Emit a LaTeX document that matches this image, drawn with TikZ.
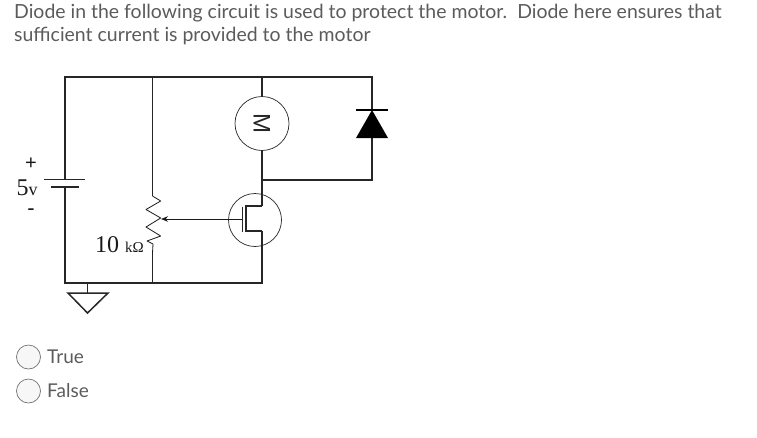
\documentclass[tikz,border=0pt]{standalone}
\usepackage{fontspec}
\setmainfont{Lato}
\newfontfamily\serifcirc{Liberation Serif}
\newfontfamily\sanscirc{Liberation Sans}
\usetikzlibrary{arrows.meta}
\definecolor{qtext}{HTML}{5B5B5B}
\tikzset{
  wire/.style={line width=1.5pt,color=black!85},
  thinring/.style={circle,draw=black!85,line width=0.7pt,minimum size=#1,inner sep=0pt},
  radio/.style={circle,draw=black!55,fill=black!3,line width=0.7pt,minimum size=24pt,inner sep=0pt},
  qlabel/.style={text=qtext,inner sep=0pt,anchor=base west,font=\fontsize{19.45}{22}\selectfont},
  anslabel/.style={text=qtext,inner sep=0pt,anchor=base west,font=\fontsize{19}{22}\selectfont},
  ser/.style={inner sep=0pt,text=black!90,font=\serifcirc}
}
\begin{document}
\begin{tikzpicture}[x=1pt,y=-1pt]
\useasboundingbox (0,0) rectangle (757,437);
\node[qlabel] (q1) at (14,18) {Diode in the following circuit is used to protect the motor.\ \ Diode here ensures that};
\node[qlabel] (q2) at (14,41) {sufficient current is provided to the motor};
% key points
\coordinate (tl) at (65,77);
\coordinate (tp) at (152.5,77);
\coordinate (tm) at (262,77);
\coordinate (tr) at (372,77);
\coordinate (bl) at (65,283);
\coordinate (bg) at (87.5,283);
\coordinate (bp) at (152.5,283);
\coordinate (bm) at (262,283);
\coordinate (jn) at (262,180);
\coordinate (jr) at (372,180);
\coordinate (batP) at (65,179);
\coordinate (batN) at (65,187);
\coordinate (gndT) at (87.5,293);
\coordinate (potT) at (152.5,196);
\coordinate (potB) at (152.5,253);
\coordinate (wip) at (161,219);
\coordinate (gate) at (242,219);
\coordinate (dr) at (262,206);
\coordinate (so) at (262,231);
\coordinate (dT) at (372,110);
\coordinate (dB) at (372,138);
% rings
\node[thinring=54pt] (motor) at (262,123.5) {};
\node[thinring=53pt] (fet) at (255,220) {};
\node[inner sep=0pt,text=black!85,rotate=-90,font=\sanscirc\fontsize{24}{24}\selectfont] (mlabel) at (262,123.5) {M};
% wires
\draw[wire] (batP) -- (tl) -- (tr) -- (dT);
\draw[wire] (batN) -- (bl) -- (bm) -- (so);
\draw[wire] (tm) -- (motor.north);
\draw[wire] (motor.south) -- (dr);
\draw[wire] (jn) -- (jr) -- (dB);
\draw[wire] (tp) -- (potT);
\draw[wire] (potB) -- (bp);
\draw[wire] (bg) -- (gndT);
% battery
\draw[line width=1pt,black!85] (44,179) -- (85,179);
\draw[line width=2.6pt,black!85] (51,187) -- (79,187);
% ground
\draw[line width=1.5pt,black!85,line join=miter] (68,293) -- (108,293) -- (87.5,313) -- cycle;
% potentiometer
\draw[line width=0.8pt,black!90,line join=round] (potT) -- (160.7,201) -- (146,209.5) -- (160.7,218) -- (146,227) -- (160.7,236) -- (147,241) -- (153,244) -- (potB);
\draw[line width=0.9pt,black!90,-{Stealth[length=7pt,width=5.5pt]}] (gate) -- (wip);
% mosfet
\draw[wire] (dr) -- (246,206) -- (246,231) -- (so);
\draw[line width=1pt,black!85] (242,207) -- (242,232);
% diode
\draw[line width=1.8pt,black] (356,110) -- (388,110);
\fill[black] (dT) -- (388,138) -- (356,138) -- cycle;
% labels
\node[inner sep=0pt,text=black!90,font=\sanscirc\fontsize{20}{20}\selectfont] (plus) at (31,164) {+};
\node[ser,anchor=base,font=\serifcirc\fontsize{24}{24}\selectfont] (five) at (27,195.5) {5{\fontsize{18}{18}\selectfont v}};
\node[inner sep=0pt,text=black!90,font=\sanscirc\fontsize{22}{22}\selectfont] (minus) at (31,212.5) {-};
\node[ser,anchor=base west,font=\serifcirc\fontsize{24}{24}\selectfont] (ten) at (95,252) {10 {\fontsize{15}{15}\selectfont k\char"03A9}};
% answers
\node[radio] (r1) at (28.5,357) {};
\node[radio] (r2) at (28.5,391) {};
\node[anslabel] (t) at (47,363.5) {True};
\node[anslabel] (f) at (47,397.5) {False};
\end{tikzpicture}
\end{document}
